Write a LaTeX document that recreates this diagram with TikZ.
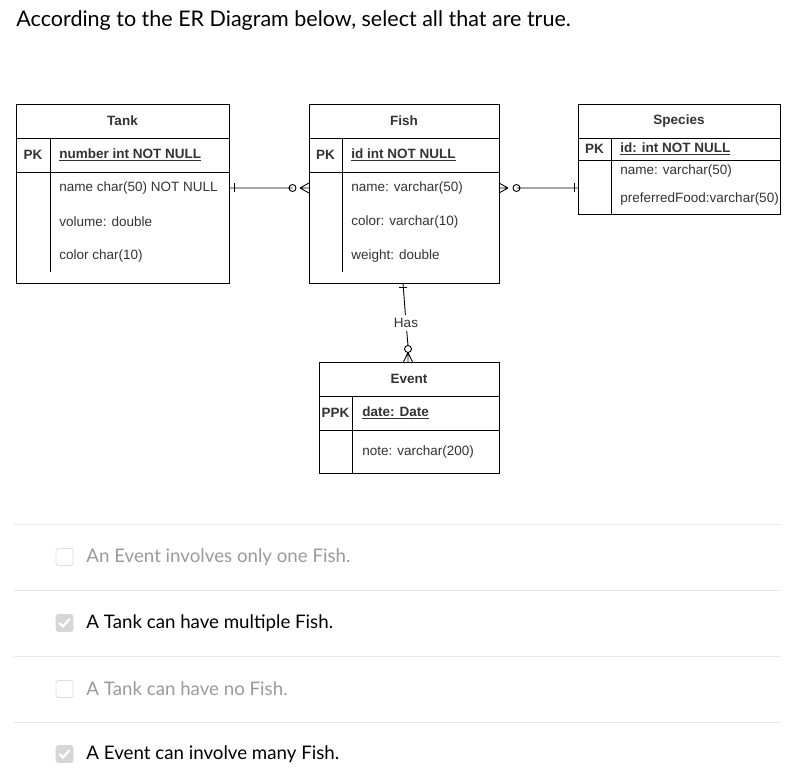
\documentclass[tikz,border=0pt]{standalone}
\usepackage{fontspec}
\setmainfont{Lato}
\newfontfamily\erfont{Liberation Sans}
\usetikzlibrary{calc}
\definecolor{sepgray}{HTML}{E8E8E8}
\definecolor{dimtext}{HTML}{9A9A9A}
\definecolor{boxline}{HTML}{DEDEDE}
\definecolor{boxfill}{HTML}{D6D6D6}
\definecolor{fieldtext}{HTML}{333333}
\tikzset{
    field/.style={anchor=west,inner sep=0pt,text=fieldtext,font=\erfont\fontsize{13.5}{15}\selectfont},
    keyfield/.style={field,font=\erfont\bfseries\fontsize{13.5}{15}\selectfont},
    header/.style={inner sep=0pt,text=fieldtext,font=\erfont\bfseries\fontsize{13.5}{15}\selectfont},
    answer/.style={anchor=west,inner sep=0pt,font=\fontsize{18.7}{21}\selectfont}
}
\begin{document}
\begin{tikzpicture}[x=1pt,y=-1pt,line width=0.9pt]
\useasboundingbox (0,0) rectangle (796,781);
\node[anchor=west,inner sep=0pt,font=\fontsize{21.5}{24}\selectfont] (question) at (16,21) {According to the ER Diagram below, select all that are true.};
% tables
\foreach \p/\xa/\ya/\xb/\yb/\title in {tank/16/104/229/283/Tank, fish/309/104/499/283/Fish, species/578/104/780/214/Species, event/319/362/499/473/Event}{
    \coordinate (\p nw) at (\xa,\ya);
    \coordinate (\p se) at (\xb,\yb);
    \draw (\p nw) rectangle (\p se);
    \draw (\xa,\ya+34) -- (\xb,\ya+34);
    \node[header] (\p) at ({(\xa+\xb)/2},\ya+17) {\title};
}
% key rows and dividers
\foreach \p/\xa/\xb/\xd/\ya/\yb/\yd/\key in {tank/16/229/50/138/172/272/PK, fish/309/499/342/138/172/272/PK, species/578/780/611/138/160/214/PK, event/319/499/352/396/430/473/PPK}{
    \draw (\xa,\yb) -- (\xb,\yb);
    \draw (\xd,\ya) -- (\xd,\yd);
    \node[header] (\p key) at ({(\xa+\xd)/2},{(\ya+\yb)/2}) {\key};
}
\foreach \x/\y/\p/\t in {59/155/tankid/number int NOT NULL, 351/155/fishid/id int NOT NULL, 620/149/speciesid/id: int NOT NULL, 362/413/eventid/date: Date}{
    \node[keyfield] (\p) at (\x,\y) {\underline{\t}};
}
\foreach \x/\y/\p/\t in {59/188/tankname/name char(50) NOT NULL, 59/222/tankvol/volume: double, 59/256/tankcol/color char(10),
    351/188/fishname/name: varchar(50), 351/222/fishcol/color: varchar(10), 351/256/fishweight/weight: double,
    620/171/speciesname/name: varchar(50), 620/199/speciesfood/preferredFood:varchar(50),
    362/452/eventnote/note: varchar(200)}{
    \node[field] (\p) at (\x,\y) {\t};
}
% relationships
\coordinate (tankR) at (229,188);
\coordinate (fishL) at (309,188);
\coordinate (fishR) at (499,188);
\coordinate (speciesL) at (578,188);
\coordinate (fishS) at (403,283);
\coordinate (eventN) at (408,362);
\draw (tankR) -- ($(fishL)+(-16.5,0)$) circle (3.5);
\draw ($(tankR)+(5,-4.5)$) -- ($(tankR)+(5,4.5)$);
\draw ($(fishL)+(-9,0)$) -- (fishL) ($(fishL)+(-9,0)$) -- ($(fishL)+(0,-5)$) ($(fishL)+(-9,0)$) -- ($(fishL)+(0,5)$);
\draw (speciesL) -- ($(fishR)+(17.5,0)$) circle (3.5);
\draw ($(speciesL)+(-4,-4.5)$) -- ($(speciesL)+(-4,4.5)$);
\draw ($(fishR)+(9,0)$) -- (fishR) ($(fishR)+(9,0)$) -- ($(fishR)+(0,-5)$) ($(fishR)+(9,0)$) -- ($(fishR)+(0,5)$);
\node[field,anchor=center,inner sep=3pt] (has) at (406,323) {Has};
\draw (fishS) -- (has);
\draw ($(fishS)+(-4,4)$) -- ($(fishS)+(4,4)$);
\draw (has) -- ($(eventN)+(0,-16.5)$) ($(eventN)+(0,-13)$) circle (3.5);
\draw ($(eventN)+(0,-9.5)$) -- (eventN) ($(eventN)+(0,-9.5)$) -- ($(eventN)+(-4.5,0)$) ($(eventN)+(0,-9.5)$) -- ($(eventN)+(4.5,0)$);
% answers
\foreach \y in {524,590,656,722}{
    \draw[sepgray,line width=1pt] (14,\y) -- (780,\y);
}
\foreach \i/\y/\c/\t in {1/557/0/An Event involves only one Fish., 2/623/1/A Tank can have multiple Fish., 3/689/0/A Tank can have no Fish., 4/754/1/A Event can involve many Fish.}{
    \ifnum\c=1
        \draw[boxfill,fill=boxfill,rounded corners=2.5pt] (56,\y-8.5) rectangle (73,\y+8.5);
        \draw[white,line width=2.2pt] (59.5,\y) -- (63,\y+3.5) -- (69.5,\y-4);
        \node[answer,text=black] (opt\i) at (86,\y) {\t};
    \else
        \draw[boxline,fill=white,rounded corners=2.5pt] (56,\y-8.5) rectangle (73,\y+8.5);
        \node[answer,text=dimtext] (opt\i) at (86,\y) {\t};
    \fi
}
\end{tikzpicture}
\end{document}
